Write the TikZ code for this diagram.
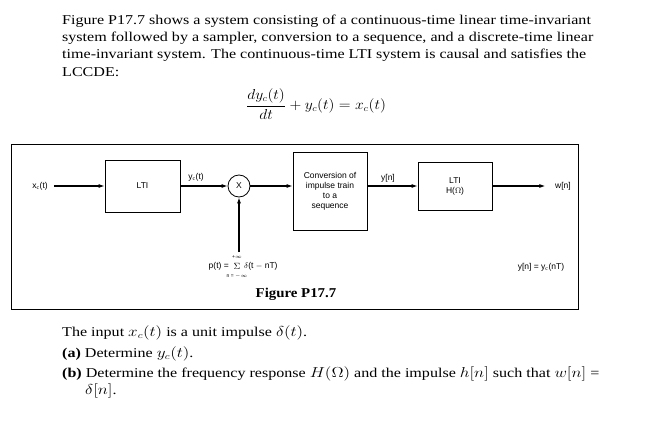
\documentclass[tikz,border=0pt]{standalone}
\usepackage{fontspec}
\setmainfont{Liberation Serif}
\newfontfamily\dsans{Liberation Sans}
\usetikzlibrary{arrows.meta}
\newcommand{\wtext}[1]{\scalebox{1.19}[1]{#1}}
\begin{document}
\begin{tikzpicture}[x=1pt,y=-1pt,
  body/.style={anchor=west,inner sep=0,font=\fontsize{13.5}{15}\selectfont},
  blk/.style={draw,line width=0.8pt,inner sep=0,font=\dsans\fontsize{8.5}{10}\selectfont,align=center},
  lbl/.style={inner sep=0,font=\dsans\fontsize{8.5}{10}\selectfont},
  sig/.style={line width=1.1pt,-{Latex[length=6pt,width=4pt]}}]
\useasboundingbox (0,0) rectangle (670,425);
\node[body] (l1) at (62,21) {\wtext{Figure P17.7 shows a system consisting of a continuous-time linear time-invariant}};
\node[body] (l2) at (62,38) {\wtext{system followed by a sampler, conversion to a sequence, and a discrete-time linear}};
\node[body] (l3) at (62,55) {\wtext{time-invariant system. The continuous-time LTI system is causal and satisfies the}};
\node[body] (l4) at (62,72) {\wtext{LCCDE:}};
\node[inner sep=0,font=\fontsize{13.5}{15}\selectfont] (eq) at (316,104) {\scalebox{1.08}[1]{$\displaystyle\frac{dy_c(t)}{dt}+y_c(t)=x_c(t)$}};
\draw[line width=0.8pt] (11,144) rectangle (578,309);
\node[blk,minimum width=75,minimum height=52] (lti) at (142.5,186) {LTI};
\node[draw,circle,line width=0.8pt,minimum size=22,inner sep=0,font=\dsans\fontsize{8.5}{10}\selectfont] (mul) at (239,186) {X};
\node[blk,minimum width=74,minimum height=78] (conv) at (330,191) {Conversion of\\impulse train\\to a\\sequence};
\node[blk,minimum width=74,minimum height=48] (dlti) at (455,186) {LTI\\H($\Omega$)};
\node[lbl] (x) at (40,186) {x$_\mathrm{c}$(t)};
\node[lbl] (w) at (563,186) {w[n]};
\node[lbl] (yc) at (196,177) {y$_\mathrm{c}$(t)};
\node[lbl] (yn) at (388,178) {y[n]};
\node[lbl,anchor=east] (p) at (229,266) {p(t) =};
\node[lbl,font=\dsans\fontsize{9}{10}\selectfont] (sig) at (237,266) {$\Sigma$};
\node[lbl,font=\dsans\fontsize{5}{6}\selectfont] (sup) at (237,257) {+$\infty$};
\node[lbl,font=\dsans\fontsize{5}{6}\selectfont] (sub) at (237,276) {n = $-\infty$};
\node[lbl,anchor=west] (dl) at (244,266) {$\delta$(t $-$ nT)};
\coordinate (pin) at (239,252);
\node[lbl] (rel) at (541,267) {y[n] = y$_\mathrm{c}$(nT)};
\draw[sig] (x.east)+(6,0) -- (lti.west);
\draw[sig] (lti.east) -- (mul.west);
\draw[sig] (mul.east) -- (conv.west|-mul);
\draw[sig] (conv.east|-dlti) -- (dlti.west);
\draw[sig] (dlti.east) -- ++(53,0) coordinate (wend);
\draw[sig] (pin) -- (mul.south);
\node[inner sep=0,font=\bfseries\fontsize{13.5}{15}\selectfont] (cap) at (296,294) {\scalebox{1.1}[1]{Figure P17.7}};
\node[body] (q0) at (62,333) {\wtext{The input $x_c(t)$ is a unit impulse $\delta(t)$.}};
\node[body] (qa) at (62,354) {\wtext{\textbf{(a)} Determine $y_c(t)$.}};
\node[body] (qb) at (62,374) {\wtext{\textbf{(b)} Determine the frequency response $H(\Omega)$ and the impulse $h[n]$ such that $w[n]$ =}};
\node[body] (qc) at (85,391) {\wtext{$\delta[n]$.}};
\end{tikzpicture}
\end{document}
